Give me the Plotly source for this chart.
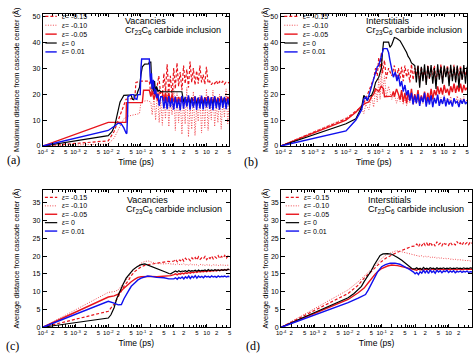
import plotly.graph_objects as go

W, H = 474, 353

EPS = ["-0.15", "-0.10", "-0.05", "0", "0.01"]

# x-axis tick labels (log time axis)
XTICK_VALS = [1e-4, 2e-4, 5e-4, 1e-3, 2e-3, 5e-3, 1e-2, 2e-2, 5e-2, 0.1, 0.2, 0.5, 1, 2, 5, 10, 20, 50]
XTICK_TEXT = ["10<sup>-4</sup>", "2", "5", "10<sup>-3</sup>", "2", "5", "10<sup>-2</sup>", "2", "5",
              "10<sup>-1</sup>", "2", "5", "1", "2", "5", "10", "2", "5"]

# shared time grids for the long-time (fluctuating) parts, ps
T_NOISE = [0.45, 0.5, 0.56, 0.63, 0.71, 0.79, 0.89,
           1.0, 1.12, 1.26, 1.41, 1.58, 1.78, 2.0,
           2.24, 2.51, 2.82, 3.16, 3.55, 3.98, 4.47,
           5.01, 5.62, 6.31, 7.08, 7.94, 8.91, 10.0,
           11.2, 12.6, 14.1, 15.8, 17.8, 20.0, 22.4,
           25.1, 28.2, 31.6, 35.5, 39.8, 44.7, 50.0]
T_LATE = [1.0, 1.12, 1.26, 1.41, 1.58, 1.78, 2.0,
          2.24, 2.51, 2.82, 3.16, 3.55, 3.98, 4.47,
          5.01, 5.62, 6.31, 7.08, 7.94, 8.91, 10.0,
          11.2, 12.6, 14.1, 15.8, 17.8, 20.0, 22.4,
          25.1, 28.2, 31.6, 35.5, 39.8, 44.7, 50.0]

# ---------------- (a) Vacancies, maximum distance ----------------
A_M015_T = [1e-4, 0.01, 0.015, 0.02, 0.025, 0.03, 0.035, 0.05, 0.065, 0.07, 0.1, 0.18, 0.2, 0.22, 0.25, 0.3, 0.35, 0.4]
A_M015_V = [0, 2.0, 5.5, 9.5, 13.0, 15.5, 18.0, 18.2, 18.4, 24.5, 25.0, 25.0, 20.0, 22.0, 19.5, 21.5, 27.0, 20.0]
A_M015_N = [19.0, 28.0, 21.0, 31.5, 20.5, 27.0, 19.5,
            30.0, 22.0, 32.0, 23.0, 28.5, 21.5, 31.0,
            24.0, 29.5, 22.5, 32.5, 24.5, 30.0, 23.5,
            29.0, 24.0, 31.0, 24.5, 27.5, 23.8, 30.5,
            24.2, 25.0, 23.6, 24.6, 24.0, 25.2, 23.7,
            24.8, 24.1, 24.9, 23.8, 24.6, 24.3, 24.5]
A_M010_T = [1e-4, 0.01, 0.015, 0.02, 0.03, 0.04, 0.06, 0.09, 0.1, 0.15, 0.2, 0.22, 0.25, 0.28, 0.32, 0.36, 0.4]
A_M010_V = [0, 0.8, 3.0, 6.0, 10.5, 11.5, 12.0, 12.5, 17.0, 17.5, 17.0, 12.0, 19.0, 10.0, 21.0, 9.0, 18.0]
A_M010_N = [8.0, 20.0, 10.5, 22.0, 7.5, 18.5, 12.0,
            23.0, 6.0, 20.5, 9.0, 19.0, 4.5, 17.5,
            8.5, 22.5, 3.5, 16.0, 6.5, 21.0, 4.0,
            15.0, 9.5, 19.5, 5.0, 18.0, 7.0, 22.0,
            6.0, 17.0, 10.0, 21.5, 7.5, 16.5, 9.0,
            20.0, 6.5, 18.5, 11.0, 22.0, 8.5, 17.0]
A_M005_T = [1e-4, 0.01, 0.035, 0.036, 0.05, 0.1, 0.11, 0.12, 0.18, 0.2, 0.22, 0.25, 0.28, 0.32, 0.36, 0.4]
A_M005_V = [0, 9.1, 9.1, 16.7, 16.7, 16.7, 16.7, 21.5, 21.5, 19.0, 21.0, 18.0, 20.5, 17.5, 20.5, 20.8]
A_M005_N = [20.8, 17.2, 20.6, 17.0, 20.5, 16.8, 19.8,
            17.1, 18.8, 16.6, 18.9, 17.0, 19.2, 16.7,
            18.6, 17.2, 19.0, 16.5, 18.7, 17.3, 19.1,
            16.9, 18.5, 17.1, 19.0, 16.6, 18.8, 17.4,
            19.2, 16.8, 18.6, 17.0, 19.0, 16.9, 18.7,
            17.2, 19.1, 16.7, 18.5, 17.3, 18.9, 17.8]
A_0_T = [1e-4, 0.01, 0.013, 0.016, 0.018, 0.02, 0.023, 0.027, 0.03, 0.04, 0.05, 0.055, 0.06, 0.065, 0.075,
         0.08, 0.09, 0.1, 0.11, 0.13, 0.17, 0.18, 0.2, 0.21, 0.22, 0.23, 0.24, 0.26, 0.28, 0.3, 0.33, 0.36, 0.4]
A_0_V = [0, 4.0, 5.5, 8.0, 11.0, 14.0, 17.0, 18.5, 19.5, 19.6, 19.6, 18.0, 17.8, 19.6, 19.7,
         21.0, 22.5, 27.5, 30.5, 31.5, 31.6, 32.3, 32.3, 26.0, 22.0, 24.0, 21.0, 25.0, 20.5, 23.0, 21.0, 21.5, 20.9]
A_0_N = [20.9, 20.9, 20.9, 20.9, 20.9, 20.9, 20.9,
         20.9, 20.9, 20.9, 20.9, 20.9, 20.9, 17.0,
         18.5, 15.8, 18.2, 16.0, 18.6, 15.5, 17.8,
         16.2, 18.4, 15.6, 17.5, 15.4, 18.3, 16.0,
         18.0, 15.5, 17.6, 16.1, 18.5, 15.7, 17.9,
         15.3, 18.1, 16.4, 18.6, 15.8, 17.2, 16.0]
A_001_T = [1e-4, 0.01, 0.015, 0.02, 0.025, 0.03, 0.035, 0.037, 0.039, 0.04, 0.05, 0.06, 0.065, 0.075, 0.08,
           0.095, 0.1, 0.105, 0.15, 0.18, 0.19, 0.2, 0.21, 0.22, 0.24, 0.26, 0.28, 0.3, 0.33, 0.36, 0.4]
A_001_V = [0, 6.0, 7.5, 8.8, 8.5, 7.0, 5.0, 4.8, 12.0, 19.0, 19.8, 19.8, 18.2, 18.0, 19.8,
           19.8, 30.0, 33.5, 33.5, 33.5, 27.0, 24.0, 28.0, 22.0, 25.5, 20.0, 22.0, 18.5, 20.0, 15.5, 19.0]
A_001_N = [19.0, 14.5, 18.8, 14.2, 19.2, 15.0, 18.5,
           14.0, 19.0, 14.6, 18.2, 13.8, 19.3, 14.4,
           18.9, 15.2, 19.5, 14.0, 18.4, 14.8, 19.1,
           13.9, 18.7, 14.5, 19.4, 14.1, 18.6, 14.9,
           19.0, 14.3, 18.8, 13.8, 19.2, 14.6, 18.5,
           14.0, 19.1, 14.7, 18.9, 14.2, 18.3, 15.5]

# ---------------- (b) Interstitials, maximum distance ----------------
B_M015_T = [1e-4, 0.01, 0.02, 0.03, 0.04, 0.05, 0.06, 0.07, 0.08, 0.09, 0.1, 0.11, 0.12, 0.13, 0.15, 0.17, 0.2, 0.25, 0.3, 0.35, 0.4]
B_M015_V = [0, 10.5, 13.5, 15.0, 18.0, 21.0, 24.0, 26.0, 30.0, 27.0, 34.0, 30.0, 36.0, 28.0, 33.0, 26.0, 30.0, 27.0, 31.0, 26.0, 30.0]
B_M015_N = [26.0, 30.5, 25.0, 31.0, 26.5, 29.5, 24.5,
            31.5, 25.5, 30.0, 27.0, 31.0, 25.0, 30.5,
            26.0, 29.0, 24.5, 31.2, 25.8, 30.0, 27.5,
            31.0, 25.0, 29.5, 26.5, 31.5, 24.8, 30.2,
            27.0, 31.0, 25.5, 29.8, 26.2, 31.3, 25.0,
            30.5, 26.8, 31.0, 25.4, 30.0, 27.2, 29.5]
B_M010_T = [1e-4, 0.01, 0.02, 0.03, 0.035, 0.04, 0.05, 0.06, 0.07, 0.08, 0.09, 0.1, 0.11, 0.12, 0.13, 0.15, 0.17, 0.2, 0.25, 0.3, 0.35, 0.4]
B_M010_V = [0, 10.8, 13.0, 14.5, 12.5, 16.0, 14.0, 19.0, 15.0, 22.0, 17.0, 26.0, 18.0, 30.0, 20.0, 27.0, 19.0, 23.0, 18.0, 20.0, 16.5, 19.0]
B_M010_N = [17.0, 20.0, 16.0, 19.0, 15.5, 18.5, 16.5,
            19.5, 15.8, 18.0, 16.2, 19.2, 15.6, 18.8,
            16.4, 20.0, 15.9, 18.2, 16.8, 19.6, 15.7,
            18.4, 16.6, 19.0, 15.8, 18.7, 16.3, 19.4,
            16.0, 18.5, 16.9, 19.1, 15.9, 18.3, 16.5,
            19.3, 16.1, 18.6, 16.7, 19.0, 16.4, 18.0]
B_M005_T = [1e-4, 0.01, 0.02, 0.03, 0.04, 0.05, 0.06, 0.07, 0.08, 0.1, 0.12, 0.14, 0.15, 0.2, 0.25, 0.28, 0.3, 0.35, 0.4]
B_M005_V = [0, 10.0, 13.0, 15.5, 16.5, 17.0, 19.0, 20.0, 22.0, 21.0, 23.0, 22.0, 19.0, 19.0, 19.2, 21.0, 19.0, 22.0, 20.0]
B_M005_N = [18.0, 21.5, 17.0, 20.5, 16.5, 21.0, 17.5,
            22.0, 16.8, 20.0, 17.2, 21.5, 16.5, 19.5,
            17.0, 21.0, 16.8, 20.5, 17.5, 22.0, 18.0,
            21.5, 19.5, 23.0, 20.0, 22.5, 19.8, 23.5,
            20.5, 22.0, 19.5, 23.0, 20.8, 24.0, 20.5,
            23.2, 21.0, 24.0, 20.6, 23.5, 21.5, 22.5]
B_0_T = [1e-4, 0.01, 0.02, 0.025, 0.03, 0.035, 0.04, 0.045, 0.05, 0.06, 0.07, 0.08, 0.1, 0.12, 0.13, 0.14, 0.2, 0.22, 0.25, 0.3, 0.35, 0.4]
B_0_V = [0, 8.6, 10.5, 13.0, 15.0, 19.5, 18.5, 17.5, 19.0, 19.5, 21.5, 24.5, 26.5, 30.0, 36.0, 40.0, 40.0, 38.0, 39.0, 41.8, 41.5, 41.0]
B_0_N = [40.5, 39.5, 38.5, 37.5, 36.0, 34.5, 33.5,
         32.0, 31.5, 31.0, 24.5, 31.0, 22.5, 30.5,
         25.0, 31.5, 23.5, 30.8, 26.0, 31.2, 24.0,
         30.0, 22.0, 31.5, 25.5, 30.5, 24.0, 31.0,
         26.5, 30.2, 23.0, 31.3, 25.0, 30.6, 24.5,
         31.0, 22.5, 30.0, 25.5, 31.2, 24.0, 30.5]
B_001_T = [1e-4, 0.01, 0.02, 0.03, 0.035, 0.04, 0.045, 0.05, 0.06, 0.07, 0.08, 0.09, 0.1, 0.12, 0.14, 0.18, 0.2, 0.22, 0.25, 0.28, 0.32, 0.36, 0.4]
B_001_V = [0, 5.8, 10.0, 14.0, 18.0, 19.0, 17.5, 19.5, 22.0, 25.0, 28.0, 30.5, 31.0, 35.0, 37.5, 37.5, 36.0, 33.0, 30.0, 26.5, 28.5, 25.0, 27.5]
B_001_N = [23.0, 25.0, 21.0, 23.5, 19.5, 21.5, 17.5,
           20.5, 16.0, 19.5, 16.5, 20.0, 15.5, 19.0,
           16.8, 20.5, 15.2, 18.8, 16.0, 19.5, 15.0,
           18.5, 16.4, 19.8, 15.5, 18.0, 16.2, 19.0,
           15.3, 18.2, 16.0, 17.5, 15.2, 18.4, 16.6,
           17.2, 15.0, 17.8, 16.3, 18.0, 16.2, 17.0]

# ---------------- (c) Vacancies, average distance ----------------
C_M015_T = [1e-4, 0.01, 0.015, 0.02, 0.025, 0.03, 0.04, 0.05, 0.065, 0.08, 0.1, 0.13, 0.17, 0.22, 0.3, 0.4, 0.5, 0.65, 0.8]
C_M015_V = [0, 4.5, 6.5, 8.5, 10.0, 11.5, 13.0, 14.5, 15.7, 16.4, 17.0, 17.4, 17.6, 17.8, 17.9, 18.1, 18.3, 18.5, 18.4]
C_M015_N = [18.6, 19.1, 18.4, 19.0, 18.7, 19.3, 18.6,
            19.4, 18.9, 19.2, 18.7, 19.5, 19.0, 19.6,
            18.9, 19.8, 19.1, 19.5, 19.2, 19.9, 19.0,
            19.7, 19.3, 20.0, 19.2, 19.8, 19.4, 20.1,
            19.3, 19.9, 19.5, 20.2, 19.4, 20.0, 19.7]
C_M010_T = [1e-4, 0.01, 0.015, 0.02, 0.03, 0.04, 0.055, 0.075, 0.1, 0.13, 0.17, 0.22, 0.3, 0.5, 0.7, 0.9]
C_M010_V = [0, 9.8, 10.0, 10.5, 12.5, 14.0, 15.8, 17.0, 18.0, 18.5, 18.6, 18.2, 17.9, 17.8, 17.9, 17.7]
C_M010_N = [17.8, 17.6, 17.9, 17.5, 17.8, 17.6, 17.9,
            17.5, 17.7, 17.4, 17.8, 17.5, 17.7, 17.4,
            17.6, 17.3, 17.7, 17.4, 17.6, 17.3, 17.6,
            17.4, 17.5, 17.3, 17.6, 17.4, 17.5, 17.3,
            17.6, 17.4, 17.5, 17.3, 17.5, 17.4, 17.5]
C_M005_T = [1e-4, 0.01, 0.015, 0.02, 0.025, 0.03, 0.04, 0.05, 0.065, 0.08, 0.1, 0.15, 0.2, 0.3, 0.5, 0.8]
C_M005_V = [0, 8.5, 8.8, 9.3, 10.3, 11.0, 12.0, 12.8, 13.5, 14.0, 14.2, 14.3, 14.3, 14.2, 14.3, 14.5]
C_M005_N = [14.8, 15.0, 14.7, 15.1, 14.9, 15.2, 15.0,
            15.3, 15.1, 15.4, 15.2, 15.5, 15.3, 15.6,
            15.4, 15.7, 15.5, 15.7, 15.6, 15.8, 15.6,
            15.9, 15.7, 15.9, 15.8, 16.0, 15.8, 16.1,
            15.9, 16.1, 16.0, 16.2, 16.0, 16.3, 16.1]
C_0_T = [1e-4, 0.01, 0.012, 0.015, 0.018, 0.022, 0.028, 0.035, 0.045, 0.057, 0.075, 0.1, 0.13, 0.16, 0.2,
         0.25, 0.32, 0.4, 0.5, 0.6, 0.7, 0.8, 0.9]
C_0_V = [0, 2.6, 3.5, 5.5, 8.0, 10.0, 12.0, 13.8, 15.2, 16.2, 17.0, 17.6, 17.8, 17.5, 17.0,
         16.7, 16.4, 16.1, 15.8, 15.4, 15.1, 15.0, 15.3]
C_0_N = [15.6, 15.8, 15.5, 15.9, 15.6, 15.8, 15.7,
         15.9, 15.6, 16.0, 15.7, 15.9, 15.8, 16.0,
         15.7, 16.1, 15.8, 16.0, 15.9, 16.1, 15.8,
         16.2, 15.9, 16.1, 15.9, 16.2, 16.0, 16.1,
         15.9, 16.2, 16.0, 16.2, 16.0, 16.3, 16.1]
C_001_T = [1e-4, 0.01, 0.015, 0.02, 0.025, 0.03, 0.04, 0.05, 0.065, 0.08, 0.1, 0.13, 0.16, 0.2, 0.3, 0.5, 0.7, 0.9]
C_001_V = [0, 7.3, 6.8, 6.3, 6.4, 8.0, 10.0, 11.5, 12.5, 13.3, 13.8, 14.2, 14.4, 14.3, 14.0, 13.9, 13.6, 13.6]
C_001_N = [13.6, 13.9, 13.5, 14.0, 13.7, 14.1, 13.6,
           14.2, 13.8, 14.4, 13.7, 14.3, 13.9, 14.5,
           13.8, 14.4, 14.0, 14.3, 13.9, 14.4, 14.1,
           14.3, 14.0, 14.4, 14.1, 14.3, 14.0, 14.4,
           14.1, 14.3, 14.2, 14.4, 14.1, 14.3, 14.2]

# ---------------- (d) Interstitials, average distance ----------------
D_M015_T = [1e-4, 0.01, 0.02, 0.03, 0.045, 0.06, 0.08, 0.1, 0.14, 0.2, 0.27, 0.4, 0.6, 0.8]
D_M015_V = [0, 9.5, 11.8, 13.8, 15.3, 16.5, 17.6, 18.5, 19.5, 20.3, 20.9, 21.6, 22.3, 22.7]
D_M015_N = [22.8, 23.4, 22.6, 23.5, 22.9, 23.8, 23.0,
            23.6, 22.7, 23.9, 23.1, 23.5, 22.8, 24.0,
            23.2, 23.6, 22.9, 23.8, 23.3, 23.5, 23.0,
            23.9, 23.2, 23.6, 23.1, 24.1, 23.3, 23.7,
            23.0, 23.9, 23.4, 23.8, 23.2, 24.0, 23.6]
D_M010_T = [1e-4, 0.01, 0.02, 0.03, 0.045, 0.06, 0.08, 0.1, 0.14, 0.2, 0.27, 0.4, 0.6, 0.8]
D_M010_V = [0, 10.5, 12.8, 14.3, 15.8, 17.0, 18.3, 19.3, 20.4, 21.0, 21.5, 21.2, 20.8, 20.5]
D_M010_N = [20.3, 20.1, 20.2, 19.9, 20.1, 19.8, 20.0,
            19.7, 19.9, 19.6, 19.8, 19.5, 19.7, 19.4,
            19.6, 19.3, 19.5, 19.3, 19.4, 19.2, 19.3,
            19.1, 19.2, 19.0, 19.1, 18.9, 19.0, 18.9,
            18.9, 18.8, 18.8, 18.7, 18.8, 18.6, 18.7]
D_M005_T = [1e-4, 0.01, 0.02, 0.03, 0.04, 0.05, 0.065, 0.08, 0.1, 0.15, 0.2, 0.3, 0.4, 0.6, 0.8]
D_M005_V = [0, 7.8, 9.7, 11.0, 12.5, 13.8, 15.0, 15.8, 16.5, 17.2, 17.5, 17.3, 17.0, 16.7, 16.4]
D_M005_N = [16.2, 16.0, 16.4, 16.1, 16.3, 15.9, 16.4,
            16.1, 16.3, 16.0, 16.4, 16.2, 16.3, 16.0,
            16.4, 16.2, 16.3, 16.1, 16.4, 16.2, 16.3,
            16.1, 16.4, 16.2, 16.3, 16.1, 16.4, 16.2,
            16.3, 16.2, 16.4, 16.2, 16.3, 16.2, 16.3]
D_0_T = [1e-4, 0.01, 0.015, 0.02, 0.025, 0.03, 0.04, 0.05, 0.06, 0.075, 0.09, 0.11, 0.15, 0.2, 0.25,
         0.3, 0.4, 0.5, 0.6, 0.7, 0.8, 0.9]
D_0_V = [0, 8.3, 9.5, 10.5, 11.5, 12.8, 14.5, 16.0, 17.5, 19.0, 20.2, 20.6, 20.7, 20.5, 20.1,
         19.6, 18.8, 18.0, 17.3, 16.8, 16.5, 16.4]
D_0_N = [16.4, 16.7, 16.3, 16.6, 16.2, 16.8, 16.4,
         16.6, 16.3, 16.7, 16.5, 16.6, 16.3, 16.7,
         16.4, 16.6, 16.5, 16.7, 16.4, 16.6, 16.5,
         16.7, 16.4, 16.6, 16.5, 16.7, 16.5, 16.6,
         16.4, 16.7, 16.5, 16.6, 16.5, 16.7, 16.6]
D_001_T = [1e-4, 0.01, 0.02, 0.033, 0.04, 0.05, 0.06, 0.075, 0.1, 0.13, 0.18, 0.25, 0.35, 0.5, 0.7, 0.9]
D_001_V = [0, 6.9, 8.2, 9.2, 10.5, 12.3, 14.0, 15.5, 17.0, 17.6, 18.0, 18.0, 17.7, 17.0, 16.2, 15.5]
D_001_N = [15.0, 15.4, 14.8, 15.6, 15.2, 16.0, 15.3,
           15.9, 15.1, 16.1, 15.4, 15.8, 15.2, 16.0,
           15.5, 15.9, 15.3, 15.8, 15.6, 16.0, 15.4,
           15.8, 15.5, 15.9, 15.3, 15.7, 15.5, 15.8,
           15.4, 15.7, 15.5, 15.8, 15.4, 15.6, 15.5]

PANELS = [
    dict(key="a", xa="x", ya="y", tgrid=T_NOISE, kind="Vacancies",
         ytitle="Maximum distance from cascade center (Å)", yrange=[0, 51], dtick=10,
         data=[(A_M015_T, A_M015_V, A_M015_N), (A_M010_T, A_M010_V, A_M010_N),
               (A_M005_T, A_M005_V, A_M005_N), (A_0_T, A_0_V, A_0_N), (A_001_T, A_001_V, A_001_N)]),
    dict(key="b", xa="x2", ya="y2", tgrid=T_NOISE, kind="Interstitials",
         ytitle="Maximum distance from cascade center (Å)", yrange=[0, 51], dtick=10,
         data=[(B_M015_T, B_M015_V, B_M015_N), (B_M010_T, B_M010_V, B_M010_N),
               (B_M005_T, B_M005_V, B_M005_N), (B_0_T, B_0_V, B_0_N), (B_001_T, B_001_V, B_001_N)]),
    dict(key="c", xa="x3", ya="y3", tgrid=T_LATE, kind="Vacancies",
         ytitle="Average distance from cascade center (Å)", yrange=[0, 38.6], dtick=5,
         data=[(C_M015_T, C_M015_V, C_M015_N), (C_M010_T, C_M010_V, C_M010_N),
               (C_M005_T, C_M005_V, C_M005_N), (C_0_T, C_0_V, C_0_N), (C_001_T, C_001_V, C_001_N)]),
    dict(key="d", xa="x4", ya="y4", tgrid=T_LATE, kind="Interstitials",
         ytitle="Average distance from cascade center (Å)", yrange=[0, 38.6], dtick=5,
         data=[(D_M015_T, D_M015_V, D_M015_N), (D_M010_T, D_M010_V, D_M010_N),
               (D_M005_T, D_M005_V, D_M005_N), (D_0_T, D_0_V, D_0_N), (D_001_T, D_001_V, D_001_N)]),
]

# ---------------- styles / layout geometry (pixels) ----------------
RED = "#e8141c"
STYLES = [dict(color=RED, width=1.2, dash="3px,2px"),
          dict(color="#f04a50", width=1.0, dash="1px,1.5px"),
          dict(color=RED, width=1.4, dash="solid"),
          dict(color="#000000", width=1.2, dash="solid"),
          dict(color="#1010ee", width=1.4, dash="solid")]

# plot-area boxes: left, right, top, bottom in pixels
BOX = {"a": (38.3, 227.7, 12.7, 146.7), "b": (279.7, 469.0, 12.7, 146.7),
       "c": (38.3, 228.0, 191.0, 330.0), "d": (280.3, 474.0, 191.0, 330.0)}
YSTAND = {"a": 11, "b": 0, "c": 11, "d": 1}
LEG = {"a": (41.0, 52.5, 55.5, 15.5, 9.0), "b": (283.5, 297.0, 300.0, 15.5, 9.0),
       "c": (40.5, 53.0, 56.0, 198.7, 8.5), "d": (285.0, 298.5, 301.5, 198.7, 8.5)}
TXT = {"a": (120.0, 20.0), "b": (364.5, 20.0), "c": (121.5, 201.0), "d": (366.5, 201.0)}
PLAB = {"a": (0.0, 161.0), "b": (241.0, 163.0), "c": (-1.0, 349.0), "d": (243.0, 349.0)}

SANS = "Liberation Sans, Arial, sans-serif"
MINOR_VALS = [m * 10.0 ** e for e in range(-4, 2) for m in range(1, 10) if m * 10.0 ** e <= 50]


def px(x):
    return x / W


def py(y):
    return 1 - y / H


fig = go.Figure()
layout = dict(width=W, height=H, margin=dict(l=0, r=0, t=0, b=0),
              paper_bgcolor="white", plot_bgcolor="white", showlegend=False,
              font=dict(family=SANS, color="black"))
shapes, annotations = [], []

for p in PANELS:
    k = p["key"]
    for (t, v, n), st in zip(p["data"], STYLES):
        fig.add_trace(go.Scatter(x=t + p["tgrid"], y=v + n, mode="lines",
                                 xaxis=p["xa"], yaxis=p["ya"],
                                 line=dict(color=st["color"], width=st["width"], dash=st["dash"])))
    l, r, tp, bt = BOX[k]
    xname = "xaxis" + p["xa"][1:]
    yname = "yaxis" + p["ya"][1:]
    layout[xname] = dict(type="log", range=[-4, 1.69897], domain=[px(l), min(px(r), 1.0)],
                         anchor=p["ya"], tickmode="array", tickvals=XTICK_VALS, ticktext=XTICK_TEXT,
                         tickangle=0, tickfont=dict(size=6, family=SANS), ticks="inside",
                         ticklen=3.5, tickwidth=0.8, tickcolor="black", showline=True,
                         linecolor="black", linewidth=1, mirror="ticks", showgrid=False,
                         zeroline=False,
                         minor=dict(ticks="inside", ticklen=2, tickmode="array", tickvals=MINOR_VALS,
                                    tickcolor="black", tickwidth=0.6, showgrid=False),
                         title=dict(text="Time (ps)", font=dict(size=8.5, family=SANS), standoff=4))
    layout[yname] = dict(range=p["yrange"], domain=[py(bt), py(tp)], anchor=p["xa"],
                         dtick=p["dtick"], tickfont=dict(size=7, family=SANS), ticks="inside",
                         ticklen=4, tickwidth=0.8, tickcolor="black", showline=True,
                         linecolor="black", linewidth=1, mirror="ticks", showgrid=False,
                         zeroline=False,
                         title=dict(text=p["ytitle"], font=dict(size=7.5, family=SANS),
                                    standoff=YSTAND[k]))
    # in-plot text
    tx, ty = TXT[k]
    annotations.append(dict(text=p["kind"], x=px(tx), y=py(ty), xref="paper", yref="paper",
                            xanchor="left", yanchor="middle", showarrow=False,
                            font=dict(size=9, family=SANS)))
    annotations.append(dict(text="Cr<sub>23</sub>C<sub>6</sub> carbide inclusion", x=px(tx - 0.5),
                            y=py(ty + 9.5), xref="paper", yref="paper", xanchor="left",
                            yanchor="middle", showarrow=False, font=dict(size=9, family=SANS)))
    # legend (drawn inside the plot, top-left)
    x0, x1, xt, y0, dy = LEG[k]
    for i, (lab, st) in enumerate(zip(EPS, STYLES)):
        yy = y0 + i * dy
        shapes.append(dict(type="line", xref="paper", yref="paper", x0=px(x0), x1=px(x1),
                           y0=py(yy), y1=py(yy),
                           line=dict(color=st["color"], width=st["width"], dash=st["dash"])))
        annotations.append(dict(text="<i>ε</i>= " + lab, x=px(xt), y=py(yy), xref="paper",
                                yref="paper", xanchor="left", yanchor="middle", showarrow=False,
                                font=dict(size=7, family=SANS)))
    # panel label
    lx, ly = PLAB[k]
    annotations.append(dict(text="(" + k + ")", x=px(lx), y=py(ly), xref="paper", yref="paper",
                            xanchor="left", yanchor="middle", showarrow=False,
                            font=dict(size=12, family="Liberation Serif, Times New Roman, serif")))

layout["shapes"] = shapes
layout["annotations"] = annotations
fig.update_layout(**layout)
fig.write_html("out.html")
